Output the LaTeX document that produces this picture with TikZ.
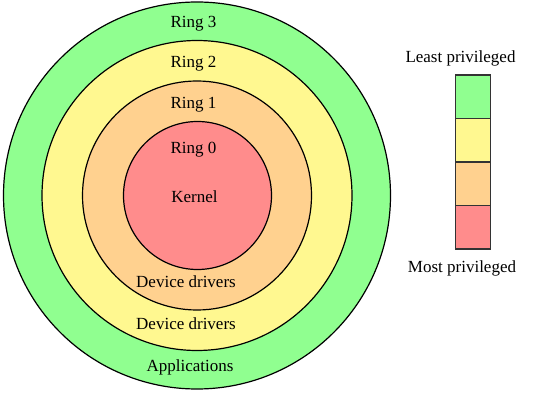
\documentclass[tikz,border=0pt]{standalone}
\usepackage{fontspec}
\setmainfont{Liberation Serif}
\definecolor{rgreen}{HTML}{90FF90}
\definecolor{ryellow}{HTML}{FFF890}
\definecolor{rorange}{HTML}{FFD18F}
\definecolor{rred}{HTML}{FF8C8C}
\tikzset{
  ring/.style={circle, draw=black, line width=1.2pt, inner sep=0pt},
  lbl/.style={anchor=base, inner sep=0pt, font=\fontsize{17}{20}\selectfont},
  legbox/.style={draw=black!80, line width=1.1pt, minimum width=35pt, minimum height=43.5pt, inner sep=0pt, outer sep=0pt, anchor=north}
}
\begin{document}
\begin{tikzpicture}[x=1pt,y=-1pt]
\useasboundingbox (0,0) rectangle (552,414);
\node[ring, fill=rgreen, minimum size=387pt] (r3) at (197,195.5) {};
\node[ring, fill=ryellow, minimum size=310pt] (r2) at (197,195.5) {};
\node[ring, fill=rorange, minimum size=229pt] (r1) at (197,195.5) {};
\node[ring, fill=rred, minimum size=148pt] (r0) at (197.5,195.5) {};
\node[lbl] (t3) at (193.5,27.3) {Ring 3};
\node[lbl] (t2) at (193.5,67.7) {Ring 2};
\node[lbl] (t1) at (193.5,108.3) {Ring 1};
\node[lbl] (t0) at (193.5,154) {Ring 0};
\node[lbl] (tk) at (194.5,202.3) {Kernel};
\node[lbl] (td1) at (186,287.7) {Device drivers};
\node[lbl] (td2) at (186,329.3) {Device drivers};
\node[lbl] (ta) at (190,371) {Applications};
\node[lbl] (least) at (460.5,62.3) {Least privileged};
\node[lbl] (most) at (462,272.3) {Most privileged};
\node[legbox, fill=rgreen] (b3) at (473.2,75) {};
\node[legbox, fill=ryellow] (b2) at (b3.south) {};
\node[legbox, fill=rorange] (b1) at (b2.south) {};
\node[legbox, fill=rred] (b0) at (b1.south) {};
\end{tikzpicture}
\end{document}
